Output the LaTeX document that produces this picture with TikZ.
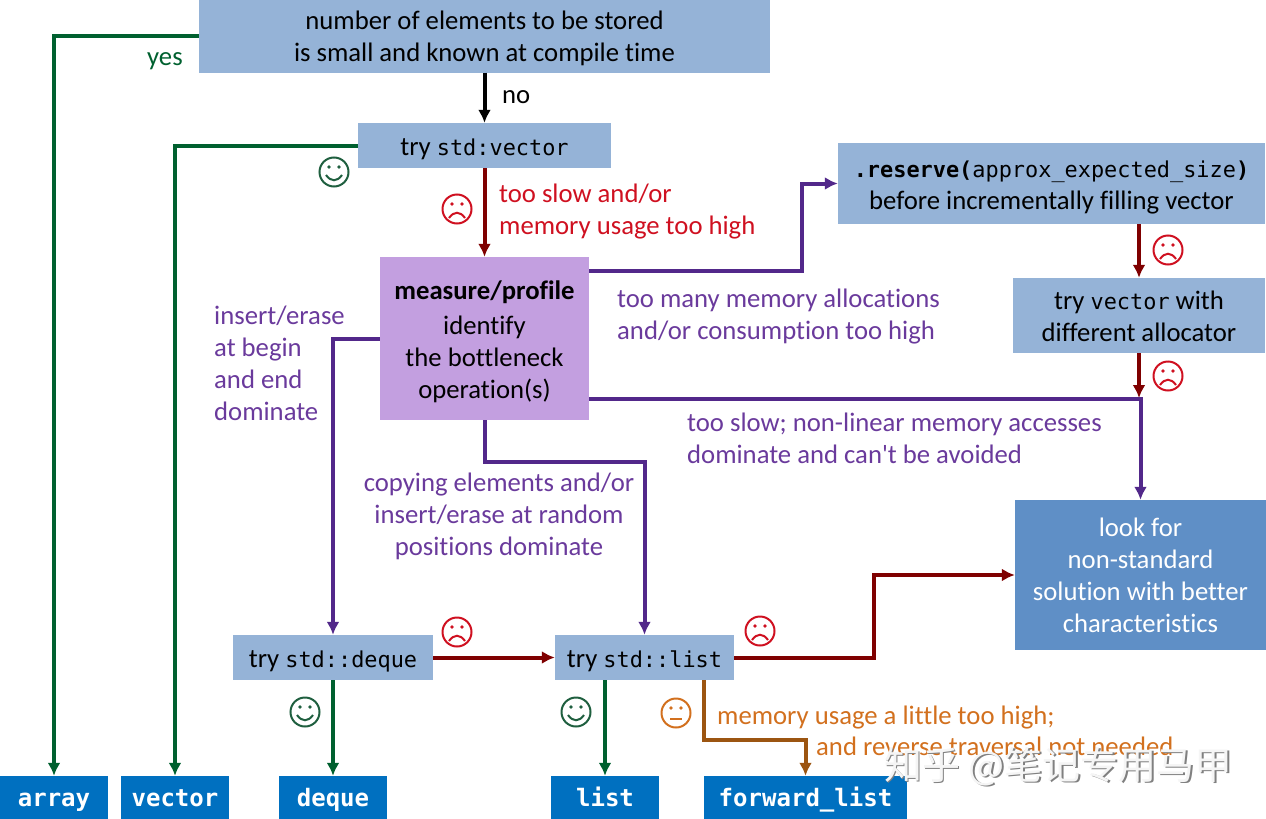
\documentclass[tikz,border=0pt]{standalone}
\usepackage{fontspec}
\setmainfont{Carlito}[Ligatures=NoCommon]
\setmonofont{DejaVu Sans Mono}[Scale=0.82]
\newfontfamily\cjkfont{Noto Sans CJK SC}
\usetikzlibrary{positioning, arrows.meta}

\definecolor{boxblue}{HTML}{95B3D7}
\definecolor{lookblue}{HTML}{5F8FC6}
\definecolor{resultblue}{HTML}{0070C0}
\definecolor{measurelilac}{HTML}{C39FE0}
\definecolor{okgreen}{HTML}{00602F}
\definecolor{facegreen}{HTML}{1F5F3F}
\definecolor{badred}{HTML}{7F0000}
\definecolor{notered}{HTML}{CF1020}
\definecolor{purpleline}{HTML}{52288A}
\definecolor{purplenote}{HTML}{6A3A9C}
\definecolor{brownline}{HTML}{9C5511}
\definecolor{orangenote}{HTML}{D2701E}

\begin{document}
\begin{tikzpicture}[
        x=1pt, y=-1pt,
        cell/.style={fill=boxblue, align=center, inner sep=0pt, font=\fontsize{26.7}{32}\selectfont}, % Стиль блоков
        trycell/.style={cell, minimum height=45pt, text height=24pt, text depth=5pt},
        lookcell/.style={cell, fill=lookblue, text=white},
        measurecell/.style={cell, fill=measurelilac, text height=124pt},
        result/.style={fill=resultblue, text=white, inner sep=0pt, minimum height=43pt, text height=23pt, text depth=6pt, font=\fontsize{29.3}{32}\selectfont\ttfamily\bfseries}, % Итоговые контейнеры
        kant/.style={align=left, anchor=west, inner sep=0pt, font=\fontsize{26.7}{32}\selectfont},
        edge/.style={draw, line width=4pt, -{Latex[length=13pt, width=13pt]}},
        edge good/.style={edge, okgreen},
        edge bad/.style={edge, badred},
        edge purple/.style={edge, purpleline},
        edge brown/.style={edge, brownline},
        pics/happy/.style={code={
            \draw[line width=2pt] (0,0) circle (14.5);
            \fill (-5,-5) circle (1.8) (5,-5) circle (1.8);
            \draw[line width=2pt] (-8,3) .. controls (-3,10) and (3,10) .. (8,3);
        }},
        pics/sad/.style={code={
            \draw[line width=2pt] (0,0) circle (14.5);
            \fill (-5,-5) circle (1.8) (5,-5) circle (1.8);
            \draw[line width=2pt] (-8,9) .. controls (-3,2) and (3,2) .. (8,9);
        }},
        pics/neutral/.style={code={
            \draw[line width=2pt] (0,0) circle (14.5);
            \fill (-5,-5) circle (1.8) (5,-5) circle (1.8);
            \draw[line width=2pt] (-6,6) -- (6,6);
        }},
    ]

    \useasboundingbox (0,0) rectangle (1266,819);

    % Блоки
    \node[cell, text height=56pt, minimum width=571pt, minimum height=73pt] (size) at (484.5,36) {number of elements to be stored\\is small and known at compile time};
    \node[trycell, minimum width=253pt] (tryvec) at (484.5,145.5) {try \texttt{std:vector}};
    \node[measurecell, minimum width=209pt, minimum height=163pt] (measure) at (484.5,338.5) {\textbf{measure/profile}\\[3pt]identify\\the bottleneck\\operation(s)};
    \node[cell, text height=56pt, minimum width=427pt, minimum height=81pt] (reserve) at (1051.5,183.5) {\texttt{\textbf{.reserve(}approx\_expected\_size\textbf{)}}\\before incrementally filling vector};
    \node[cell, text height=53pt, minimum width=252pt, minimum height=75pt] (tryalloc) at (1139,315.5) {try \texttt{vector} with\\different allocator};
    \node[lookcell, minimum width=251pt, minimum height=150pt] (look) at (1140.5,575) {look for\\non-standard\\solution with better\\characteristics};
    \node[trycell, minimum width=200pt] (trydeque) at (333,657.5) {try \texttt{std::deque}};
    \node[trycell, minimum width=179pt] (trylist) at (644.5,657.5) {try \texttt{std::list}};

    % Контейнеры
    \node[result, minimum width=108pt] (array) at (54,797.5) {array};
    \node[result, minimum width=108pt] (vector) at (175,797.5) {vector};
    \node[result, minimum width=108pt] (deque) at (333,797.5) {deque};
    \node[result, minimum width=108pt] (list) at (605,797.5) {list};
    \node[result, minimum width=203pt] (forward) at (805.5,797.5) {forward\_list};

    \coordinate (join) at (tryalloc.south |- 0,398);

    % Стрелки
    \path[edge good] (size.west) -| (array.north);
    \path[edge good] (tryvec.west) -| (vector.north);
    \path[edge good] (trydeque.south) -- (deque.north);
    \path[edge good] (trylist.south -| list.north) -- (list.north);
    \path[edge, black] (size.south) -- (tryvec.north);
    \path[edge bad] (tryvec.south) -- (measure.north);
    \path[edge bad] (reserve.south -| tryalloc.north) -- (tryalloc.north);
    \path[edge bad] (tryalloc.south) -- (join);
    \path[edge bad] (trydeque.east) -- (trylist.west);
    \path[edge bad] (trylist.east) -- ++(140,0) |- (look.west);
    \path[edge purple] ([yshift=68pt]measure.east) -- ++(213,0) |- (reserve.west);
    \path[edge purple] (measure.west) -| (trydeque.north);
    \path[edge purple] (measure.south) -- ++(0,42) -| (trylist.north);
    \path[edge purple] ([yshift=-60pt]measure.east) -| (look.north);
    \path[edge brown] ([xshift=59pt]trylist.south) -- ++(0,60) -| (forward.north);

    % Подписи
    \node[kant, okgreen] (yes) at (147,61) {yes};
    \node[kant] (no) at (502,97) {no};
    \node[kant, notered] (slow) at (499,212) {too slow and/or\\memory usage too high};
    \node[kant, purplenote] (alloc) at (617,317) {too many memory allocations\\and/or consumption too high};
    \node[kant, purplenote] (ends) at (214,363) {insert/erase\\at begin\\and end\\dominate};
    \node[kant, purplenote] (nonlinear) at (687,438) {too slow; non-linear memory accesses\\dominate and can\textquotesingle t be avoided};
    \node[kant, purplenote, align=center, anchor=center] (copying) at (499,516) {copying elements and/or\\insert/erase at random\\positions dominate};
    \node[kant, orangenote] (usage) at (717,718) {memory usage a little too high;};
    \node[kant, orangenote] (reverse) at (816,746) {and reverse traversal not needed};

    % Рожицы
    \pic[facegreen] at (334,172) {happy};
    \pic[facegreen] at (305,712) {happy};
    \pic[facegreen] at (576,712) {happy};
    \pic[notered] at (457,209) {sad};
    \pic[notered] at (1168,250) {sad};
    \pic[notered] at (1168,376) {sad};
    \pic[notered] at (457,632) {sad};
    \pic[notered] at (760,631) {sad};
    \pic[orangenote] at (676,713) {neutral};

    % Водяной знак
    \node[anchor=west, inner sep=0pt, text=gray, font=\fontsize{38}{38}\selectfont\cjkfont] (markshadow) at (885.5,768) {知乎 @笔记专用马甲};
    \node[anchor=west, inner sep=0pt, text=white!92!gray, font=\fontsize{38}{38}\selectfont\cjkfont] (mark) at (884,766.5) {知乎 @笔记专用马甲};

\end{tikzpicture}
\end{document}
